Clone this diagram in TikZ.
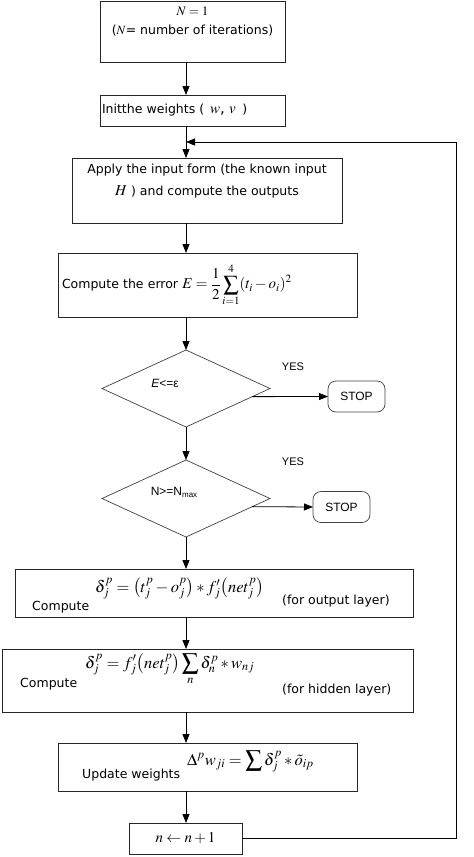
\documentclass[tikz,border=0pt]{standalone}
\usepackage{mathptmx}
\usepackage[no-math]{fontspec}
\setmainfont{DejaVu Sans}
\newfontfamily\chartfont{Liberation Sans}
\usetikzlibrary{shapes.geometric,arrows.meta}
\newcommand\eqsize{\fontsize{15}{17}\selectfont}
\newcommand\deltasize{\fontsize{16.5}{18}\selectfont}

\begin{document}
\begin{tikzpicture}[x=1pt,y=-1pt,
    box/.style={draw=black!85,line width=0.9pt,inner sep=0pt,outer sep=0pt},
    test/.style={diamond,draw=black!75,line width=0.7pt,inner sep=0pt,outer sep=0pt,
      minimum width=168pt,minimum height=77pt},
    stopbox/.style={draw=black!75,line width=0.7pt,rounded corners=8pt,inner sep=0pt,outer sep=0pt,
      minimum width=57pt,minimum height=31pt,font=\chartfont\fontsize{12}{14}\selectfont},
    txt/.style={inner sep=0pt,font=\fontsize{12.5}{15}\selectfont},
    dtxt/.style={inner sep=0pt,font=\chartfont\fontsize{12}{14}\selectfont},
    arr/.style={-{Triangle[length=9pt,width=7pt]},line width=0.8pt},
    loop/.style={line width=1.8pt}]
  \useasboundingbox (0,0) rectangle (474,857);

  \node[box,minimum width=185pt,minimum height=61pt] (count) at (192.5,31.5) {};
  \node[txt] (countA) at (192.5,11) {\fontsize{13}{15}\selectfont$N=1$};
  \node[txt] (countB) at (192.5,31) {($N$= number of iterations)};

  \node[box,text width=181pt,inner xsep=2pt,minimum height=31pt,align=left,font=\fontsize{12.5}{15}\selectfont]
    (weights) at (192.5,110.5) {Initthe weights ( {\eqsize$\,w$,\ $v$\,} )\strut};

  \node[box,minimum width=270pt,minimum height=65pt] (apply) at (207,190.5) {};
  \node[txt,align=center,font=\fontsize{12.5}{22}\selectfont] (applyT) at (207,181)
    {Apply the input form (the known input\\ {\eqsize$H$} ) and compute the outputs};

  \node[box,text width=291pt,inner xsep=4pt,minimum height=64pt,align=left,font=\fontsize{12.5}{15}\selectfont]
    (error) at (207.5,285) {Compute the error {\eqsize$\displaystyle E=\frac{1}{2}\sum_{i=1}^{4}(t_i-o_i)^2$}};

  \node[test] (errtest) at (186,388.5) {};
  \node[dtxt] (errtestT) at (165,383) {\textit{E}<=ε};
  \node[stopbox] (stopA) at (356.5,396.5) {STOP};
  \node[dtxt,font=\chartfont\fontsize{11}{13}\selectfont] (yesA) at (293,367) {YES};

  \node[test] (limtest) at (186,498.5) {};
  \node[dtxt] (limtestT) at (174,492) {N>=N\raisebox{-2pt}{\fontsize{8}{8}\selectfont max}};
  \node[stopbox] (stopB) at (341.5,507) {STOP};
  \node[dtxt,font=\chartfont\fontsize{11}{13}\selectfont] (yesB) at (293,462) {YES};

  \node[box,minimum width=398pt,minimum height=48pt] (outdelta) at (214,593) {};
  \node[txt,anchor=base west] (outdeltaA) at (32,610) {Compute};
  \node[anchor=base west,inner sep=0pt] (outdeltaB) at (95,592)
    {\deltasize$\delta_j^p=\bigl(t_j^p-o_j^p\bigr)*f_j'\bigl(net_j^p\bigr)$};
  \node[txt,anchor=base west] (outdeltaC) at (282,604) {(for output layer)};

  \node[box,minimum width=411pt,minimum height=63pt] (hiddelta) at (207.5,680.5) {};
  \node[txt,anchor=base west] (hiddeltaA) at (20,687) {Compute};
  \node[anchor=base west,inner sep=0pt] (hiddeltaB) at (85,668)
    {\deltasize$\displaystyle\delta_j^p=f_j'\bigl(net_j^p\bigr)\sum_n\delta_n^p*w_{nj}$};
  \node[txt,anchor=base west] (hiddeltaC) at (282,693) {(for hidden layer)};

  \node[box,minimum width=299pt,minimum height=48pt] (update) at (207.5,767) {};
  \node[txt,anchor=base west] (updateA) at (82,778) {Update weights};
  \node[anchor=base west,inner sep=0pt] (updateB) at (187,765)
    {\deltasize$\displaystyle\Delta^p w_{ji}=\sum\delta_j^p*\tilde{o}_{ip}$};

  \node[box,minimum width=113pt,minimum height=31pt] (next) at (185.5,838.5) {\eqsize$n\leftarrow n+1$};

  \coordinate (join) at (186,142);

  \draw[arr] (count.south -| errtest.north) -- (weights.north -| errtest.north);
  \draw[arr] (weights.south -| errtest.north) -- (apply.north -| errtest.north);
  \draw[arr] (apply.south -| errtest.north) -- (error.north -| errtest.north);
  \draw[arr] (error.south -| errtest.north) -- (errtest.north);
  \draw[arr] (errtest.south) -- (limtest.north);
  \draw[arr] (limtest.south) -- (outdelta.north -| limtest.south);
  \draw[arr] (outdelta.south -| limtest.south) -- (hiddelta.north -| limtest.south);
  \draw[arr] (hiddelta.south -| limtest.south) -- (update.north -| limtest.south);
  \draw[arr] (update.south -| limtest.south) -- (next.north -| limtest.south);
  \draw[arr] (errtest.353) -- (stopA.west);
  \draw[arr] (limtest.353) -- (stopB.west);
  % back to the input step
  \draw[loop,arr] (next.east) -- ++(214,0) |- (join);
\end{tikzpicture}
\end{document}
